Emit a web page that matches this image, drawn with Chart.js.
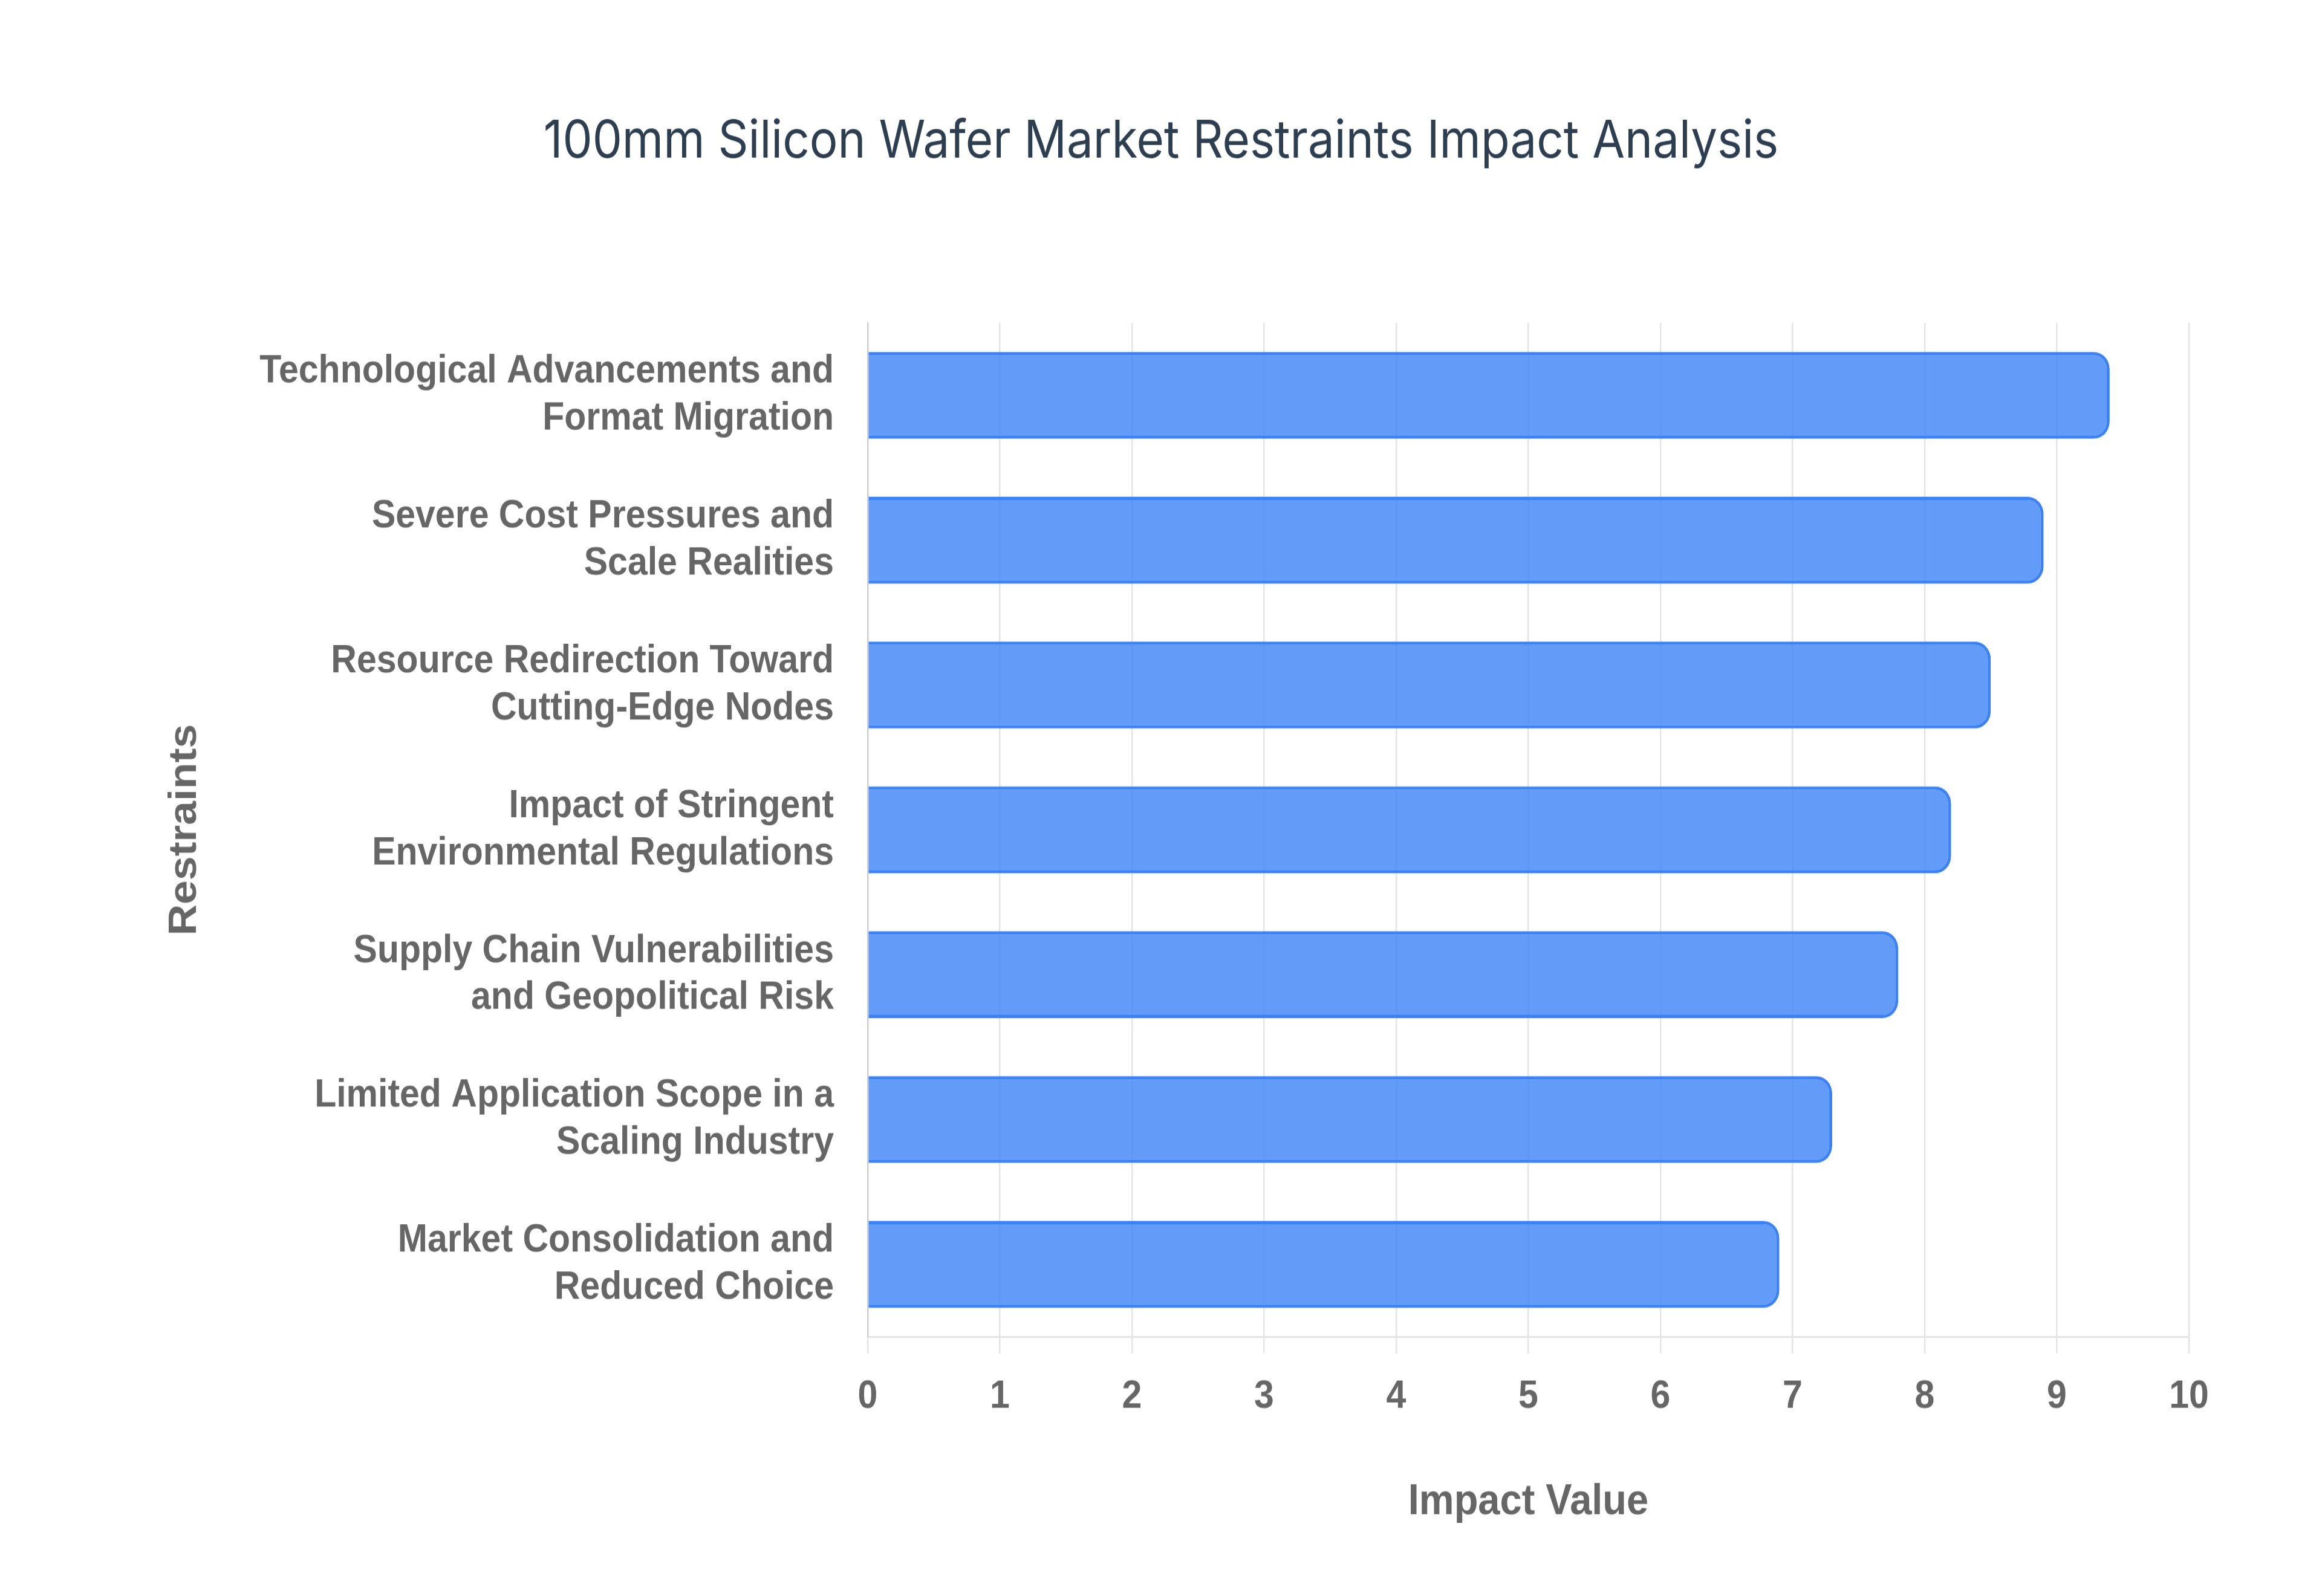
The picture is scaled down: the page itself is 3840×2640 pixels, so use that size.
<!DOCTYPE html>
<html>
<head>
<meta charset="utf-8">
<title>100mm Silicon Wafer Market Restraints Impact Analysis</title>
<script src="https://cdn.jsdelivr.net/npm/chart.js@4.4.1/dist/chart.umd.min.js"></script>
<style>
    body { margin: 0; background: #ffffff; }
</style>
</head>
<body>
<!-- drawn at 3840x2400 and shown a little taller, like the original picture -->
<canvas id="chart-area" width="3840" height="2400" style="display:block;width:3840px;height:2640px"></canvas>
<script>
// Restraint names, wrapped on two lines like the original
var restraints = [
    ['Technological Advancements and', 'Format Migration'],
    ['Severe Cost Pressures and', 'Scale Realities'],
    ['Resource Redirection Toward', 'Cutting-Edge Nodes'],
    ['Impact of Stringent', 'Environmental Regulations'],
    ['Supply Chain Vulnerabilities', 'and Geopolitical Risk'],
    ['Limited Application Scope in a', 'Scaling Industry'],
    ['Market Consolidation and', 'Reduced Choice']
];
var impactValues = [9.4, 8.9, 8.5, 8.2, 7.8, 7.3, 6.9];
var impactTicks = [0, 1, 2, 3, 4, 5, 6, 7, 8, 9, 10];

var chartTitle = '100mm Silicon Wafer Market Restraints Impact Analysis';
var xTitle = 'Impact Value';
var yTitle = 'Restraints';

function drawChart() {
    var labelFont = { family: '"Liberation Sans", Arial, sans-serif', size: 59, weight: 'bold', lineHeight: 1.2 };
    var axisTitleFont = { family: '"Liberation Sans", Arial, sans-serif', size: 65, weight: 'bold', lineHeight: 1.2 };

    var config = {
        type: 'bar',
        data: {
            labels: restraints,
            datasets: [{
                label: 'Impact Value',
                data: impactValues,
                backgroundColor: 'rgba(59, 130, 246, 0.8)',
                borderColor: '#3b82f6',
                borderWidth: 5,
                borderRadius: 26,
                borderSkipped: 'start',
                categoryPercentage: 0.8,
                barPercentage: 0.75
            }]
        },
        options: {
            indexAxis: 'y',
            responsive: false,
            animation: false,
            devicePixelRatio: 1,
            layout: {
                padding: { top: 0, left: 220, right: 220, bottom: 102 }
            },
            plugins: {
                legend: { display: false },
                tooltip: { enabled: false },
                title: {
                    display: true,
                    text: chartTitle,
                    color: '#2c3e50',
                    font: { family: 'Inter, "Noto Sans", sans-serif', size: 78, weight: 'normal', lineHeight: 1.2 },
                    padding: { top: 167, bottom: 225 }
                }
            },
            scales: {
                x: {
                    min: 0,
                    max: 10,
                    afterBuildTicks: function (scale) {
                        scale.ticks = impactTicks.map(function (v) { return { value: v }; });
                    },
                    grid: {
                        color: 'rgba(0, 0, 0, 0.1)',
                        lineWidth: 2.5,
                        tickLength: 25
                    },
                    border: { color: 'rgba(0, 0, 0, 0.1)', width: 3 },
                    ticks: {
                        color: '#666666',
                        font: labelFont,
                        padding: 30,
                        maxRotation: 0
                    },
                    title: {
                        display: true,
                        text: xTitle,
                        color: '#666666',
                        font: axisTitleFont,
                        padding: { top: 54, bottom: 0 }
                    }
                },
                y: {
                    grid: { display: false },
                    border: { color: 'rgba(0, 0, 0, 0.1)', width: 2.5 },
                    afterFit: function (scale) {
                        scale.width = 1215;
                    },
                    ticks: {
                        color: '#666666',
                        font: labelFont,
                        padding: 48
                    },
                    title: {
                        display: true,
                        text: yTitle,
                        color: '#666666',
                        font: axisTitleFont,
                        padding: { top: 47, bottom: 0 }
                    }
                }
            }
        }
    };
    var ctx = document.getElementById('chart-area').getContext('2d');
    window.myBar = new Chart(ctx, config);
}

drawChart();
</script>
</body>
</html>
